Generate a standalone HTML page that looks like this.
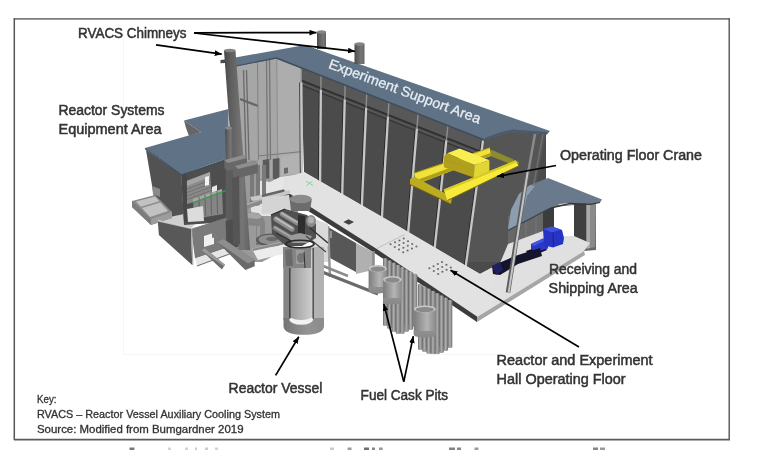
<!DOCTYPE html>
<html><head><meta charset="utf-8">
<style>
html,body{margin:0;padding:0;background:#fff;width:768px;height:450px;overflow:hidden}
svg{display:block;will-change:transform}
text{font-family:"Liberation Sans",sans-serif}
.lb{fill:#333;stroke:#333;stroke-width:0.5px}
</style></head>
<body>
<svg width="768" height="450" viewBox="0 0 768 450">
<defs>
<marker id="ah" markerWidth="8" markerHeight="6" refX="7" refY="3" orient="auto" markerUnits="userSpaceOnUse">
<path d="M0,0.2 L7.2,3 L0,5.8 Z" fill="#000"/>
</marker>
</defs>
<rect width="768" height="450" fill="#fff"/>
<g id="bld">
<polygon points="236,66 277,57.5 302,67 303,176 290,180 238,178" fill="#a6a6a6" />
<polygon points="277,57.5 302,67 303,152 278,158" fill="#adadad" />
<line x1="243.5" y1="70" x2="246" y2="160" stroke="#6a6a6a" stroke-width="1.3" />
<line x1="246.5" y1="70" x2="249" y2="160" stroke="#6a6a6a" stroke-width="1.3" />
<line x1="240" y1="99" x2="258" y2="106" stroke="#666" stroke-width="2.2" />
<line x1="257.5" y1="63" x2="258.5" y2="160" stroke="#808080" stroke-width="1" />
<line x1="266.5" y1="60" x2="267.5" y2="160" stroke="#767676" stroke-width="1.3" />
<line x1="269.5" y1="60" x2="270.5" y2="160" stroke="#767676" stroke-width="1.3" />
<line x1="276.7" y1="58" x2="277.7" y2="158" stroke="#8e8e8e" stroke-width="1" />
<line x1="258" y1="156" x2="303" y2="151.5" stroke="#7a7a7a" stroke-width="1.2" />
<polygon points="262.8,160 269.4,159 269.4,182 262.8,182" fill="#5a5a5a" />
<polygon points="272.8,159 279.4,158 279.4,180 272.8,180" fill="#5a5a5a" />
<polygon points="280.6,157 302.8,152.5 302.8,173 280.6,176" fill="#b2b2b2" />
<polygon points="284,168 288,167.5 288,173 284,174" fill="#6a6a6a" />
<polygon points="301,67 485,140 500,134 512,131 546,133 546,250 510,258 480,274 304,172" fill="#4b4b4b" />
<polygon points="301,67 485,140 485,153 301,80" fill="#585858" />
<line x1="301" y1="80.3" x2="485" y2="153.3" stroke="#2e2e2e" stroke-width="1.5" />
<line x1="301" y1="85" x2="485" y2="158" stroke="#333" stroke-width="1.1" />
<line x1="301" y1="83" x2="485" y2="156" stroke="#5c5c5c" stroke-width="1.2" />
<polygon points="484,139 500,134 512,131 546,133 521.972,262 467.028,262" fill="#555555" />
<line x1="535" y1="134" x2="514.384" y2="250" stroke="#8a8a8a" stroke-width="2.5" />
<line x1="543" y1="134" x2="521.651" y2="250" stroke="#6e6e6e" stroke-width="1.5" />
<line x1="301.26" y1="68.2662" x2="301.354" y2="82.538" stroke="#8e8e8e" stroke-width="1.4" />
<line x1="299.754" y1="82.538" x2="300.365" y2="175.608" stroke="#2a2a2a" stroke-width="1" />
<line x1="301.354" y1="82.538" x2="301.965" y2="175.608" stroke="#c6c6c6" stroke-width="2.3" />
<line x1="320.966" y1="75.8092" x2="320.848" y2="90.0761" stroke="#8e8e8e" stroke-width="1.4" />
<line x1="319.248" y1="90.0761" x2="318.448" y2="186.628" stroke="#2a2a2a" stroke-width="1" />
<line x1="320.848" y1="90.0761" x2="320.048" y2="186.628" stroke="#c6c6c6" stroke-width="2.3" />
<line x1="345.13" y1="85.1784" x2="344.749" y2="99.4391" stroke="#8e8e8e" stroke-width="1.4" />
<line x1="343.149" y1="99.4391" x2="340.454" y2="200.316" stroke="#2a2a2a" stroke-width="1" />
<line x1="344.749" y1="99.4391" x2="342.054" y2="200.316" stroke="#c6c6c6" stroke-width="2.3" />
<line x1="366.744" y1="93.6742" x2="366.124" y2="107.929" stroke="#8e8e8e" stroke-width="1.4" />
<line x1="364.524" y1="107.929" x2="359.972" y2="212.728" stroke="#2a2a2a" stroke-width="1" />
<line x1="366.124" y1="107.929" x2="361.572" y2="212.728" stroke="#c6c6c6" stroke-width="2.3" />
<line x1="388.864" y1="102.488" x2="387.998" y2="116.737" stroke="#8e8e8e" stroke-width="1.4" />
<line x1="386.398" y1="116.737" x2="379.781" y2="225.604" stroke="#2a2a2a" stroke-width="1" />
<line x1="387.998" y1="116.737" x2="381.381" y2="225.604" stroke="#c6c6c6" stroke-width="2.3" />
<line x1="418.078" y1="114.318" x2="416.88" y2="128.56" stroke="#8e8e8e" stroke-width="1.4" />
<line x1="415.28" y1="128.56" x2="405.67" y2="242.888" stroke="#2a2a2a" stroke-width="1" />
<line x1="416.88" y1="128.56" x2="407.27" y2="242.888" stroke="#c6c6c6" stroke-width="2.3" />
<line x1="447.868" y1="126.228" x2="446.327" y2="140.462" stroke="#8e8e8e" stroke-width="1.4" />
<line x1="444.727" y1="140.462" x2="431.757" y2="260.288" stroke="#2a2a2a" stroke-width="1" />
<line x1="446.327" y1="140.462" x2="433.357" y2="260.288" stroke="#c6c6c6" stroke-width="2.3" />
<line x1="481.411" y1="140.401" x2="462.1" y2="280.994" stroke="#2a2a2a" stroke-width="1" />
<line x1="483.011" y1="140.401" x2="463.7" y2="280.994" stroke="#c6c6c6" stroke-width="2.3" />
<polygon points="235.5,57.5 305,45 550,131 547,134.5 512,131.5 500,134.5 485,140.5 277,58.5 236,66.5" fill="#5f7286" />
<polygon points="485,138 500,132.5 512,129.5 547,132 547,134.5 512,131.5 500,134.5 485,140.5" fill="#4a5a6c" />
<line x1="277" y1="58.3" x2="485" y2="140.3" stroke="#3f4d5e" stroke-width="1.5" />
<line x1="236" y1="66" x2="277" y2="57.8" stroke="#3f4d5e" stroke-width="1.2" />
<text x="0" y="0" font-size="14" style="fill:#e6ecf2;stroke:#e6ecf2;stroke-width:0.3px" transform="translate(327.7,67.7) rotate(20.35)" textLength="161" lengthAdjust="spacingAndGlyphs">Experiment Support Area</text>
<linearGradient id="chg" x1="0" x2="1" y1="0" y2="0"><stop offset="0" stop-color="#474747"/><stop offset="0.25" stop-color="#5e5e5e"/><stop offset="0.7" stop-color="#767676"/><stop offset="1" stop-color="#626262"/></linearGradient>
<polygon points="317,32 326,32 326,49 317,49" fill="url(#chg)" />
<ellipse cx="321.5" cy="32" rx="4.5" ry="1.7" fill="#858585" />
<polygon points="354.5,44 364.5,44 364.5,64 354.5,64" fill="url(#chg)" />
<ellipse cx="359.5" cy="44" rx="5" ry="1.7" fill="#858585" />
<polygon points="228,165 250,160 258,160 258,178 292,180 300,200 292,246 262,262 240,262 226,250 226,165" fill="#9a9a9a" />
<polygon points="256,180 262,181 270,182 280,177 303,174 303,186 295,189 258,198 256,190" fill="#e6e6e6" />
<polygon points="250,204 290,194 292,203 283,216 252,216" fill="#e2e2e2" />
<polygon points="252,249 288,241 292,252 258,260" fill="#ececec" />
<polygon points="250,165 254,165 254,205 250,206" fill="#7a7a7a" />
<polygon points="256,165 260,165 260,205 256,206" fill="#7a7a7a" />
<polygon points="262,165 266,165 266,205 262,206" fill="#7a7a7a" />
<polygon points="246,204 292,188 293,192 247,209" fill="#8a8a8a" />
<polygon points="246,204 292,188 292,189.5 246,205.5" fill="#b0b0b0" />
<polygon points="247,212 258,213 263,217 265,222 265,244 256,244 256,226 247,225" fill="#858585" />
<polygon points="247,212.5 258,213.5 262,217 258,219 247,218" fill="#a6a6a6" />
<polygon points="257,226 260,226 260,244 257,244" fill="#9c9c9c" />
<line x1="256" y1="244" x2="265" y2="244" stroke="#555" stroke-width="1" />
<ellipse cx="271" cy="240" rx="15" ry="6.5" fill="#5a5a5a" />
<ellipse cx="271" cy="239.5" rx="12.5" ry="4.8" fill="#8e8e8e" />
<ellipse cx="272" cy="239" rx="6" ry="2.2" fill="#6a6a6a" />
<polygon points="252,248 284,241 285,244 253,251" fill="#8a8a8a" />
<polygon points="252,248 284,241 284,242 252,249" fill="#aaa" />
<polygon points="146,150 181.3,174.7 184,221 157.8,219.4" fill="#525252" />
<polygon points="157.8,219.4 184,214 192,214 200,219 191.1,228.3" fill="#cfcfcf" />
<polygon points="152,186 160,189 160,197 153,194" fill="#8a8a8a" />
<polygon points="181.3,174.7 228,158 228,222 184,225" fill="#4e4e4e" />
<polygon points="186.7,181 210,172 212,197 187,204" fill="#8a8a8a" />
<polygon points="186.7,181 210,172 210,177 187,186" fill="#a4a4a4" />
<line x1="187" y1="189" x2="211" y2="180" stroke="#6a6a6a" stroke-width="0.8" />
<line x1="187" y1="192.5" x2="211" y2="183.5" stroke="#6a6a6a" stroke-width="0.8" />
<line x1="187" y1="196" x2="211" y2="187" stroke="#6a6a6a" stroke-width="0.8" />
<line x1="187" y1="199.5" x2="211" y2="190.5" stroke="#6a6a6a" stroke-width="0.8" />
<polygon points="205,177 209,176 209,185 205,186" fill="#f4f4f4" />
<polygon points="212,187 217,185 217,193 212,195" fill="#e8e8e8" />
<polygon points="193,199 222,189 223,214 194,219" fill="#858585" />
<polygon points="193,199 222,189 222,192 193,202" fill="#a8a8a8" />
<line x1="199" y1="196.96" x2="199.5" y2="216.98" stroke="#5a5a5a" stroke-width="0.8" />
<line x1="205" y1="194.92" x2="205.5" y2="215.96" stroke="#5a5a5a" stroke-width="0.8" />
<line x1="211" y1="192.88" x2="211.5" y2="214.94" stroke="#5a5a5a" stroke-width="0.8" />
<line x1="217" y1="190.84" x2="217.5" y2="213.92" stroke="#5a5a5a" stroke-width="0.8" />
<polygon points="187,209 203,206 204,221 188,222" fill="#dcdcdc" />
<polygon points="181.3,174.7 186.7,173 187,222 184,223" fill="#474747" />
<line x1="193.3" y1="202.7" x2="236" y2="186.7" stroke="#3c9a4c" stroke-width="1.5" opacity="0.85"/>
<polygon points="225.6,165 238.9,162 238.9,242 225.6,244" fill="#5c5c5c" />
<polygon points="132,201 155,195 172,212 172,218 151,225 132,207" fill="#8a8a8a" />
<polygon points="151,219 172,212 172,218 151,225" fill="#9c9c9c" />
<polygon points="132,201 151,219 151,225 132,207" fill="#7c7c7c" />
<polygon points="136,201.5 155,196.5 168,211 150,217" fill="#c2c2c2" />
<line x1="141" y1="207.5" x2="161" y2="201.5" stroke="#8e8e8e" stroke-width="1.5" />
<polygon points="157.8,219.4 191.1,228.3 225.6,219.4 225.6,221.8 191.1,230.8 157.8,221.8" fill="#c4c4c4" />
<polygon points="157.8,221.5 191.1,229 192.2,265 158.9,235" fill="#585858" />
<polygon points="191.1,229 226.6,217.5 226.6,248 195,258.5" fill="#7a7a7a" />
<polygon points="195,258.5 226.6,248 232,252 197,265.5" fill="#e6e6e6" />
<line x1="197" y1="266" x2="232" y2="253" stroke="#777" stroke-width="1.2" />
<line x1="191.6" y1="229" x2="192.8" y2="265" stroke="#aaa" stroke-width="1.2" />
<polygon points="204,236 212,233.5 212,238 214,237.5 214,244 204,247" fill="#f0f0f0" />
<polygon points="225.6,221 240,218 240,246 226.7,251.7" fill="#4e4e4e" />
<polygon points="201.6,250.6 204.7,248.3 225,264.7 221.9,269.4" fill="#6e6e6e" />
<polygon points="201.6,250.6 204.7,248.3 225,264.7 223.5,266" fill="#9a9a9a" />
<polygon points="217.2,242 223.4,239 254.7,260 254.7,266.25 245.3,270" fill="#6a6a6a" />
<polygon points="217.2,242 223.4,239 254.7,260 248,263.5" fill="#8e8e8e" />
<polygon points="145,148 201,132 184,120.5 228.5,109 228.5,158 181.3,174.7" fill="#5f7286" />
<polygon points="184,120.5 201,132 189,136 186,128" fill="#666" />
<line x1="145" y1="148.5" x2="181.3" y2="174.7" stroke="#3f4d5e" stroke-width="1.2" />
<line x1="181.3" y1="174.7" x2="228" y2="160" stroke="#3f4d5e" stroke-width="1.2" />
<polygon points="220.5,60 225,59.5 225,63 220.5,63.3" fill="#4a4a4a" />
<polygon points="224,50.5 235.5,50.5 250.1,250 238.6,250" fill="url(#chg)" />
<ellipse cx="229.75" cy="50.5" rx="5.75" ry="1.7" fill="#858585" />
<polygon points="225,128 232,128 233,160 226,160" fill="url(#chg)" />
<ellipse cx="228.5" cy="128" rx="3.5" ry="1.7" fill="#858585" />
<polygon points="224.3,160 243,155 247,158 247,166 228,171 224.3,168" fill="#686868" />
<polygon points="224.3,160 243,155 247,158 228,163" fill="#8e8e8e" />
<polygon points="235,166 254,161 257.7,164 257.7,173 238,178 235,175" fill="#666" />
<polygon points="235,166 254,161 257.7,164 238,169" fill="#8e8e8e" />
<polygon points="232,178 239,176 240,244 233,245" fill="#555" />
<polygon points="284,178 304,172 400,227 480,274 510,258 546,250 585,240 591,244 584,251 477,317 376,249 283,190" fill="#e2e2e2" />
<polygon points="283,189.5 376,248.5 477,316.5 477,322 376,254 283,195" fill="#3c3c3c" />
<polygon points="477,317 584,251 585,255 477,322" fill="#a6a6a6" />
<polygon points="343.3,222 348.5,219.3 354,222 348.8,224.7" fill="#444" />
<line x1="306" y1="181" x2="313" y2="185.5" stroke="#8fcf9f" stroke-width="1" />
<line x1="306.5" y1="185.5" x2="312.5" y2="181" stroke="#8fcf9f" stroke-width="1" />
<line x1="376.7" y1="248.5" x2="404.7" y2="234.5" stroke="#b8b8b8" stroke-width="0.8" />
<ellipse cx="390.6" cy="244.2" rx="1.1" ry="1" fill="#6e6e6e" />
<ellipse cx="395" cy="242.3" rx="1.1" ry="1" fill="#6e6e6e" />
<ellipse cx="399.4" cy="240.4" rx="1.1" ry="1" fill="#6e6e6e" />
<ellipse cx="403.8" cy="238.5" rx="1.1" ry="1" fill="#6e6e6e" />
<ellipse cx="394.8" cy="246.9" rx="1.1" ry="1" fill="#6e6e6e" />
<ellipse cx="399.2" cy="245" rx="1.1" ry="1" fill="#6e6e6e" />
<ellipse cx="403.6" cy="243.1" rx="1.1" ry="1" fill="#6e6e6e" />
<ellipse cx="408" cy="241.2" rx="1.1" ry="1" fill="#6e6e6e" />
<ellipse cx="399" cy="249.6" rx="1.1" ry="1" fill="#6e6e6e" />
<ellipse cx="403.4" cy="247.7" rx="1.1" ry="1" fill="#6e6e6e" />
<ellipse cx="407.8" cy="245.8" rx="1.1" ry="1" fill="#6e6e6e" />
<ellipse cx="412.2" cy="243.9" rx="1.1" ry="1" fill="#6e6e6e" />
<ellipse cx="403.2" cy="252.3" rx="1.1" ry="1" fill="#6e6e6e" />
<ellipse cx="407.6" cy="250.4" rx="1.1" ry="1" fill="#6e6e6e" />
<ellipse cx="412" cy="248.5" rx="1.1" ry="1" fill="#6e6e6e" />
<ellipse cx="416.4" cy="246.6" rx="1.1" ry="1" fill="#6e6e6e" />
<ellipse cx="429.4" cy="268.3" rx="1.1" ry="1" fill="#6e6e6e" />
<ellipse cx="433.6" cy="266.2" rx="1.1" ry="1" fill="#6e6e6e" />
<ellipse cx="437.8" cy="264.1" rx="1.1" ry="1" fill="#6e6e6e" />
<ellipse cx="442" cy="262" rx="1.1" ry="1" fill="#6e6e6e" />
<ellipse cx="433.8" cy="271.1" rx="1.1" ry="1" fill="#6e6e6e" />
<ellipse cx="438" cy="269" rx="1.1" ry="1" fill="#6e6e6e" />
<ellipse cx="442.2" cy="266.9" rx="1.1" ry="1" fill="#6e6e6e" />
<ellipse cx="446.4" cy="264.8" rx="1.1" ry="1" fill="#6e6e6e" />
<ellipse cx="438.2" cy="273.9" rx="1.1" ry="1" fill="#6e6e6e" />
<ellipse cx="442.4" cy="271.8" rx="1.1" ry="1" fill="#6e6e6e" />
<ellipse cx="446.6" cy="269.7" rx="1.1" ry="1" fill="#6e6e6e" />
<ellipse cx="450.8" cy="267.6" rx="1.1" ry="1" fill="#6e6e6e" />
<polygon points="250,197 290,190 290,194 252,201" fill="#c8c8c8" />
<polygon points="312,226 328,226 330,262 312,262" fill="#d8d8d8" />
<polygon points="328,227 356,243 356,272 330,258" fill="#575757" />
<polygon points="356,243 373,252 373,270 356,274" fill="#b0b0b0" />
<line x1="328" y1="226" x2="330" y2="277" stroke="#9a9a9a" stroke-width="2.5" />
<line x1="373.5" y1="251" x2="373.5" y2="294" stroke="#8a8a8a" stroke-width="2.5" />
<line x1="312" y1="261.5" x2="348" y2="276" stroke="#8c8c8c" stroke-width="2.5" />
<line x1="312" y1="268" x2="378" y2="294" stroke="#6a6a6a" stroke-width="3" />
<line x1="331" y1="231" x2="331" y2="238" stroke="#bdbdbd" stroke-width="1.2" />
<linearGradient id="vg" x1="0" x2="1" y1="0" y2="0"><stop offset="0" stop-color="#9a9a9a"/><stop offset="1" stop-color="#cfcfcf"/></linearGradient>
<linearGradient id="vbg" x1="0" x2="1" y1="0" y2="0"><stop offset="0" stop-color="#747474"/><stop offset="0.6" stop-color="#949494"/><stop offset="1" stop-color="#8a8a8a"/></linearGradient>
<polygon points="283.5,247 324,247 324,320 283.5,320" fill="#b4b4b4" />
<polygon points="283.5,247 289.5,247 289.5,320 283.5,320" fill="#858585" />
<path d="M283.5,318 L324,318 L324,326 Q324,334.8 303.7,334.8 Q283.5,334.8 283.5,326 Z" fill="url(#vbg)"/>
<ellipse cx="301.2" cy="319.5" rx="11.8" ry="5.2" fill="#f2f2f2" />
<polygon points="290,250 312.5,250 312.5,317 290,317" fill="url(#vg)" />
<path d="M290,316 L312.5,316 L312.5,317.5 Q301.2,322.5 290,317.5 Z" fill="url(#vg)"/>
<polygon points="314,250 324,250 324,318 314,318" fill="#b2b2b2" />
<line x1="289.8" y1="248" x2="289.8" y2="318.5" stroke="#3a3a3a" stroke-width="1.4" />
<line x1="313.2" y1="248" x2="313.2" y2="318.5" stroke="#4a4a4a" stroke-width="1.4" />
<polygon points="283,247 311,247 311,268 283,268" fill="#858585" />
<polygon points="285,250 292,249 293,266 286,266" fill="#6a6a6a" />
<polygon points="296,250 304,250 304,264 296,264" fill="#9c9c9c" />
<ellipse cx="301" cy="258" rx="4" ry="5" fill="#777" />
<line x1="304" y1="252" x2="305" y2="268" stroke="#333" stroke-width="1" />
<polygon points="262,197 289,195 292,212 262,214" fill="#d4d4d4" />
<line x1="262" y1="196" x2="284" y2="190.5" stroke="#666" stroke-width="2.5" />
<polygon points="312,218 328,224 328,246 315,246" fill="#dadada" />
<polygon points="271,215 285,209 307,215 316,224 316,238 302,246 286,246 272,234" fill="#505050" />
<line x1="276" y1="219" x2="292" y2="229" stroke="#8e8e8e" stroke-width="5.2" stroke-linecap="round"/>
<line x1="276" y1="218.09" x2="292" y2="228.09" stroke="#bdbdbd" stroke-width="1.82" stroke-linecap="round"/>
<line x1="282" y1="214" x2="297" y2="223" stroke="#8a8a8a" stroke-width="4.8" stroke-linecap="round"/>
<line x1="282" y1="213.16" x2="297" y2="222.16" stroke="#b8b8b8" stroke-width="1.68" stroke-linecap="round"/>
<line x1="275" y1="228" x2="290" y2="237" stroke="#7e7e7e" stroke-width="4.8" stroke-linecap="round"/>
<line x1="275" y1="227.16" x2="290" y2="236.16" stroke="#a8a8a8" stroke-width="1.68" stroke-linecap="round"/>
<polygon points="298,215 305,216 305,240 298,240" fill="#2e2e2e" />
<ellipse cx="311" cy="221" rx="5" ry="6" fill="#8a8a8a" />
<ellipse cx="311" cy="220" rx="3" ry="3.5" fill="#b0b0b0" />
<polygon points="288,236 300,233 312,236 308,243 292,243" fill="#9a9a9a" />
<line x1="276" y1="233" x2="291" y2="241" stroke="#2a2a2a" stroke-width="1" />
<line x1="271" y1="215" x2="285" y2="209" stroke="#2a2a2a" stroke-width="1.2" />
<line x1="310" y1="228" x2="328" y2="243" stroke="#333" stroke-width="1.5" />
<line x1="306" y1="236" x2="326" y2="252" stroke="#444" stroke-width="1.2" />
<ellipse cx="300" cy="244" rx="14" ry="3.8" fill="none" stroke="#2a2a2a" stroke-width="1.6"/>
<polygon points="289.6,199 311.8,199 310,211 291,211" fill="#6c6c6c" />
<ellipse cx="300.7" cy="199" rx="11" ry="4.2" fill="#8c8c8c" />
<linearGradient id="cg" x1="0" x2="1" y1="0" y2="0"><stop offset="0" stop-color="#6a6a6a"/><stop offset="0.45" stop-color="#b0b0b0"/><stop offset="1" stop-color="#707070"/></linearGradient>
<linearGradient id="cupg" x1="0" x2="1" y1="0" y2="0"><stop offset="0" stop-color="#7c7c7c"/><stop offset="0.6" stop-color="#b4b4b4"/><stop offset="1" stop-color="#8a8a8a"/></linearGradient>
<polygon points="383,258 417,276 417,325 383,324" fill="#7a7a7a" />
<rect x="383.00" y="258.00" width="4.55" height="68.00" rx="2.12" ry="1.5" fill="url(#cg)"/>
<rect x="387.25" y="260.25" width="4.55" height="68.75" rx="2.12" ry="1.5" fill="url(#cg)"/>
<rect x="391.50" y="262.50" width="4.55" height="69.50" rx="2.12" ry="1.5" fill="url(#cg)"/>
<rect x="395.75" y="264.75" width="4.55" height="69.25" rx="2.12" ry="1.5" fill="url(#cg)"/>
<rect x="400.00" y="267.00" width="4.55" height="67.00" rx="2.12" ry="1.5" fill="url(#cg)"/>
<rect x="404.25" y="269.25" width="4.55" height="62.75" rx="2.12" ry="1.5" fill="url(#cg)"/>
<rect x="408.50" y="271.50" width="4.55" height="58.50" rx="2.12" ry="1.5" fill="url(#cg)"/>
<rect x="412.75" y="273.75" width="4.55" height="53.25" rx="2.12" ry="1.5" fill="url(#cg)"/>
<polygon points="418,284 452,302 452,346 418,348" fill="#7a7a7a" />
<rect x="418.00" y="284.00" width="4.55" height="66.00" rx="2.12" ry="1.5" fill="url(#cg)"/>
<rect x="422.25" y="286.25" width="4.55" height="65.75" rx="2.12" ry="1.5" fill="url(#cg)"/>
<rect x="426.50" y="288.50" width="4.55" height="65.50" rx="2.12" ry="1.5" fill="url(#cg)"/>
<rect x="430.75" y="290.75" width="4.55" height="64.25" rx="2.12" ry="1.5" fill="url(#cg)"/>
<rect x="435.00" y="293.00" width="4.55" height="62.00" rx="2.12" ry="1.5" fill="url(#cg)"/>
<rect x="439.25" y="295.25" width="4.55" height="57.75" rx="2.12" ry="1.5" fill="url(#cg)"/>
<rect x="443.50" y="297.50" width="4.55" height="53.50" rx="2.12" ry="1.5" fill="url(#cg)"/>
<rect x="447.75" y="299.75" width="4.55" height="48.25" rx="2.12" ry="1.5" fill="url(#cg)"/>
<rect x="368.6" y="268.5" width="18.3" height="22.5" fill="url(#cupg)" />
<ellipse cx="377.75" cy="291" rx="9.15" ry="2.5" fill="#8a8a8a" />
<rect x="368.6" y="287" width="18.3" height="3" fill="#8e8e8e" />
<ellipse cx="377.75" cy="268.5" rx="9.15" ry="3.6" fill="#c8c8c8" />
<ellipse cx="377.75" cy="269.1" rx="7.35" ry="2.6" fill="#8a8a8a" />
<rect x="383.2" y="279.5" width="18.4" height="22.5" fill="url(#cupg)" />
<ellipse cx="392.4" cy="302" rx="9.2" ry="2.5" fill="#8a8a8a" />
<rect x="383.2" y="298" width="18.4" height="3" fill="#8e8e8e" />
<ellipse cx="392.4" cy="279.5" rx="9.2" ry="3.6" fill="#c8c8c8" />
<ellipse cx="392.4" cy="280.1" rx="7.4" ry="2.6" fill="#8a8a8a" />
<rect x="413.8" y="309" width="22" height="26" fill="url(#cupg)" />
<ellipse cx="424.8" cy="335" rx="11" ry="2.5" fill="#8a8a8a" />
<rect x="413.8" y="331" width="22" height="3" fill="#8e8e8e" />
<ellipse cx="424.8" cy="309" rx="11" ry="3.6" fill="#c8c8c8" />
<ellipse cx="424.8" cy="309.6" rx="9.2" ry="2.6" fill="#8a8a8a" />
<polygon points="508,216 543,208 555,205 596,203 596,250 584,251 508,262" fill="#686868" />
<line x1="516" y1="214" x2="516" y2="246" stroke="#777" stroke-width="1" />
<line x1="526" y1="214" x2="526" y2="246" stroke="#777" stroke-width="1" />
<line x1="536" y1="214" x2="536" y2="246" stroke="#777" stroke-width="1" />
<polygon points="543,210 554,207 554,236 543,240" fill="#3c3c3c" />
<polygon points="554,207 574,205 574,238 554,242" fill="#ffffff" />
<polygon points="574,204 586,203 586,248 574,250" fill="#404040" />
<polygon points="586,203 596,202 595,247 586,249" fill="#8a8a8a" />
<polygon points="587,203 590,203 590,248 587,248.5" fill="#aaa" />
<polygon points="508,244 543,231 556,236 574,236 590,243 584,251 495,305 488,292" fill="#e0e0e0" />
<polygon points="526,251 544,245 547,250 530,257" fill="#0e0e28" />
<polygon points="531,244 543,238.5 548,241 548,248.5 536,252 531,249" fill="#2a38c6" />
<polygon points="531,244 543,238.5 546,240 534,246" fill="#4656dc" />
<polygon points="543,229 552,226.5 562,230 564,238 563,244 553,247.5 544,245.5" fill="#2634c4" />
<polygon points="543,229 552,226.5 561,229.5 552,232.5" fill="#4252de" />
<line x1="553" y1="232.5" x2="553.5" y2="247" stroke="#1a2290" stroke-width="1" />
<polygon points="492,266 515,256 540,248 542,256 518,264 500,275 493,274" fill="#14142c" />
<polygon points="492,266 500,262 503,270 496,275" fill="#202060" />
<polygon points="508,230 511,210 519,194 530,185 548,178 602,199.5 600,202.5 590,204 580,203.5 570,203 560,204 550,208 540,213 508,230" fill="#6a7a8c" />
<polygon points="508,230 511,210 519,194 530,185 535,186 527,196 523,212 521,224" fill="#8c9db0" />
<line x1="600" y1="202.5" x2="590" y2="204.3" stroke="#333" stroke-width="1.2" />
<line x1="590" y1="204.3" x2="570" y2="203.3" stroke="#333" stroke-width="1.2" />
<line x1="570" y1="203.3" x2="550" y2="208.3" stroke="#333" stroke-width="1.2" />
<line x1="550" y1="208.3" x2="508" y2="230.5" stroke="#3a4450" stroke-width="1.2" />
<line x1="527.5" y1="170" x2="508" y2="292.5" stroke="#5a5a5a" stroke-width="4.5" />
<line x1="528" y1="170" x2="508.6" y2="292.5" stroke="#c4c4c4" stroke-width="2" />
<polygon points="488,151 492,150 519,162 518,167 490,156" fill="#8e8a2e" />
<polygon points="414,173 490,147.5 490.5,156 416,184.5" fill="#f0e238" />
<polygon points="415.5,180.5 490.3,153 490.5,156 416,184.5" fill="#b0a01c" />
<line x1="414" y1="173.3" x2="490" y2="147.8" stroke="#a09018" stroke-width="0.9" />
<polygon points="410,179 415,177 452,197 451,204 410,184.5" fill="#bcac22" />
<line x1="410" y1="184.5" x2="451" y2="204" stroke="#7a6e10" stroke-width="1" />
<polygon points="443.7,189.5 515.8,160.4 518.5,166 447.3,200.5" fill="#f7ea3a" />
<polygon points="443.7,189.5 515.8,160.4 516.5,162.3 444.2,191.6" fill="#d8c828" />
<line x1="447.3" y1="200.5" x2="518.5" y2="166" stroke="#7a6e10" stroke-width="1" />
<polygon points="447.2,153.3 459.7,148.6 489.4,160.3 474.5,165" fill="#f8ee50" />
<polygon points="444,156.4 447.2,153.3 474.5,165 473.8,177.5 444,167.3" fill="#b0a01e" />
<polygon points="474.5,165 489.4,160.3 489.4,171.3 473.8,177.5" fill="#e2d634" />
<line x1="444" y1="160" x2="474" y2="170" stroke="#a89a18" stroke-width="0.8" />
</g>

<!-- caption fragments -->
<rect x="129.5" y="447.5" width="4.9" height="2.5" fill="#444" opacity="0.72"/>
<rect x="168" y="447.5" width="3.0" height="2.5" fill="#444" opacity="0.23"/>
<rect x="185" y="447.5" width="3.0" height="2.5" fill="#444" opacity="0.23"/>
<rect x="195" y="447.5" width="2.0" height="2.5" fill="#444" opacity="0.28"/>
<rect x="205" y="447.5" width="3.0" height="2.5" fill="#444" opacity="0.28"/>
<rect x="215" y="447.5" width="3.0" height="2.5" fill="#444" opacity="0.23"/>
<rect x="330" y="447.5" width="4.0" height="2.5" fill="#444" opacity="0.28"/>
<rect x="347.6" y="447.5" width="3.9" height="2.5" fill="#444" opacity="0.54"/>
<rect x="364" y="447.5" width="5.0" height="2.5" fill="#444" opacity="0.77"/>
<rect x="372" y="447.5" width="3.0" height="2.5" fill="#444" opacity="0.64"/>
<rect x="379" y="447.5" width="3.7" height="2.5" fill="#444" opacity="0.54"/>
<rect x="449" y="447.5" width="6.0" height="2.5" fill="#444" opacity="0.67"/>
<rect x="457" y="447.5" width="4.0" height="2.5" fill="#444" opacity="0.64"/>
<rect x="474.5" y="447.5" width="3.9" height="2.5" fill="#444" opacity="0.54"/>
<rect x="593" y="447.5" width="5.0" height="2.5" fill="#444" opacity="0.64"/>
<rect x="600" y="447.5" width="5.0" height="2.5" fill="#444" opacity="0.54"/>
<!-- embedded image faint edge -->
<line x1="123" y1="354.4" x2="640" y2="354.4" stroke="#f7f7f7" stroke-width="1"/>
<line x1="123.5" y1="30" x2="123.5" y2="355" stroke="#f7f7f7" stroke-width="1"/>
<!-- frame -->
<line x1="14" y1="18.8" x2="729.5" y2="18.8" stroke="#7d7d7d" stroke-width="1.8"/>
<line x1="14.3" y1="18" x2="14.3" y2="440" stroke="#555" stroke-width="1.5"/>
<line x1="729.2" y1="18" x2="729.2" y2="440" stroke="#555" stroke-width="1.4"/>
<line x1="14" y1="439.6" x2="730" y2="439.6" stroke="#5a5a5a" stroke-width="1.7"/>

<!-- arrows -->
<g stroke="#000" stroke-width="1.7" fill="none">
<line x1="194" y1="32.8" x2="316.5" y2="32.6" marker-end="url(#ah)"/>
<line x1="194" y1="33" x2="355" y2="51.3" marker-end="url(#ah)"/>
<line x1="156" y1="44.8" x2="221.7" y2="54.1" marker-end="url(#ah)"/>
<line x1="556" y1="165.5" x2="497" y2="176.5" marker-end="url(#ah)"/>
<line x1="579" y1="347" x2="450.5" y2="270.2" marker-end="url(#ah)"/>
<line x1="275.6" y1="375.4" x2="298.8" y2="336.7" marker-end="url(#ah)"/>
<line x1="403.8" y1="381.7" x2="383.8" y2="303.9" marker-end="url(#ah)"/>
<line x1="403.8" y1="381.7" x2="413.3" y2="336.1" marker-end="url(#ah)"/>
</g>

<!-- labels -->
<g font-size="14" class="lb">
<text x="78" y="37.8" textLength="108.5" lengthAdjust="spacingAndGlyphs">RVACS Chimneys</text>
<text x="58.5" y="114.5" textLength="106" lengthAdjust="spacingAndGlyphs">Reactor Systems</text>
<text x="58.5" y="133.6" textLength="103" lengthAdjust="spacingAndGlyphs">Equipment Area</text>
<text x="560" y="159.8" textLength="142" lengthAdjust="spacingAndGlyphs">Operating Floor Crane</text>
<text x="549" y="274.1" textLength="88" lengthAdjust="spacingAndGlyphs">Receiving and</text>
<text x="548.6" y="293.3" textLength="89" lengthAdjust="spacingAndGlyphs">Shipping Area</text>
<text x="496.6" y="364.5" textLength="156" lengthAdjust="spacingAndGlyphs">Reactor and Experiment</text>
<text x="496.6" y="383.7" textLength="129" lengthAdjust="spacingAndGlyphs">Hall Operating Floor</text>
<text x="228.6" y="393.4" textLength="93.7" lengthAdjust="spacingAndGlyphs">Reactor Vessel</text>
<text x="360.6" y="400" textLength="87.5" lengthAdjust="spacingAndGlyphs">Fuel Cask Pits</text>
</g>
<g font-size="10.6" class="lb" style="stroke-width:0.3px">
<text x="37" y="403.3" textLength="19.5" lengthAdjust="spacingAndGlyphs">Key:</text>
<text x="37" y="418.1" textLength="243" lengthAdjust="spacingAndGlyphs">RVACS – Reactor Vessel Auxiliary Cooling System</text>
<text x="37" y="433" textLength="206.5" lengthAdjust="spacingAndGlyphs">Source: Modified from Bumgardner 2019</text>
</g>
</svg>
</body></html>
